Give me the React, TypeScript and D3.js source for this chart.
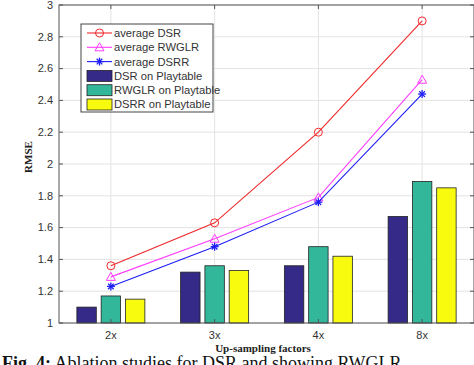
import * as d3 from "d3";

const categories = ["2x", "3x", "4x", "8x"];
const avgDSR = [1.36, 1.63, 2.2, 2.9];
const avgRWGLR = [1.29, 1.53, 1.79, 2.53];
const avgDSRR = [1.23, 1.48, 1.76, 2.44];
const barDSR = [1.1, 1.32, 1.36, 1.67];
const barRWGLR = [1.17, 1.36, 1.48, 1.89];
const barDSRR = [1.15, 1.33, 1.42, 1.85];
const yTicks = [1, 1.2, 1.4, 1.6, 1.8, 2, 2.2, 2.4, 2.6, 2.8, 3];

const W = 474;
const H = 365;
const m = { left: 59, right: 474, top: 5, bottom: 323 };

const bars = [
  { name: "DSR on Playtable", values: barDSR, color: "#352a87" },
  { name: "RWGLR on Playtable", values: barRWGLR, color: "#33b79b" },
  { name: "DSRR on Playtable", values: barDSRR, color: "#f9fb0e" },
];
const lines = [
  { name: "average DSR", values: avgDSR, color: "#f0282a", marker: "circle" },
  { name: "average RWGLR", values: avgRWGLR, color: "#ff3cff", marker: "triangle" },
  { name: "average DSRR", values: avgDSRR, color: "#1d1df5", marker: "star" },
];

const Marker = ({ type, x, y, color }: { type: string; x: number; y: number; color: string }) => {
  if (type === "circle") return <circle cx={x} cy={y} r={4} fill="none" stroke={color} strokeWidth={1} />;
  if (type === "triangle") {
    const d = `M${x},${y - 4.5}L${x + 4.5},${y + 3.5}L${x - 4.5},${y + 3.5}Z`;
    return <path d={d} fill="none" stroke={color} strokeWidth={1} />;
  }
  const r = 4;
  const a = r * 0.7;
  return (
    <g stroke={color} strokeWidth={1.3}>
      <line x1={x - r} y1={y} x2={x + r} y2={y} />
      <line x1={x} y1={y - r} x2={x} y2={y + r} />
      <line x1={x - a} y1={y - a} x2={x + a} y2={y + a} />
      <line x1={x - a} y1={y + a} x2={x + a} y2={y - a} />
    </g>
  );
};

export default function App() {
  const x = d3.scaleLinear().domain([0.5, 4.5]).range([m.left, m.right]);
  const y = d3.scaleLinear().domain([1, 3]).range([m.bottom, m.top]);
  const offset = d3.scaleBand().domain(bars.map((b) => b.name)).range([-34, 34]).paddingInner(0.2);
  const bw = offset.bandwidth();
  const line = d3
    .line<number>()
    .x((_, i) => x(i + 1))
    .y((d) => y(d));

  const font = "Liberation Sans, Arial, sans-serif";
  const serif = "Liberation Serif, Times New Roman, serif";
  const axisColor = "#555";

  const lx = 81, ly = 24, lw = 132, lh = 88;
  const rowH = 14.3;

  return (
    <svg width={W} height={H} style={{ position: "absolute", left: 0, top: 0, background: "#fff" }}>
      {/* grid */}
      <g stroke="#e3e3e3" strokeWidth={1}>
        {yTicks.map((t) => (
          <line key={"gy" + t} x1={m.left} x2={m.right} y1={y(t)} y2={y(t)} />
        ))}
        {categories.map((_, i) => (
          <line key={"gx" + i} x1={x(i + 1)} x2={x(i + 1)} y1={m.top} y2={m.bottom} />
        ))}
      </g>

      {/* bars */}
      {bars.map((b) =>
        b.values.map((v, i) => (
          <rect
            key={b.name + i}
            x={x(i + 1) + (offset(b.name) as number)}
            y={y(v)}
            width={bw}
            height={y(1) - y(v)}
            fill={b.color}
            stroke="#222"
            strokeWidth={0.8}
          />
        ))
      )}

      {/* lines */}
      {lines.map((l) => (
        <g key={l.name}>
          <path d={line(l.values) || ""} fill="none" stroke={l.color} strokeWidth={1.1} />
          {l.values.map((v, i) => (
            <Marker key={i} type={l.marker} x={x(i + 1)} y={y(v)} color={l.color} />
          ))}
        </g>
      ))}

      {/* axes box */}
      <rect x={m.left} y={m.top} width={m.right - m.left} height={m.bottom - m.top} fill="none" stroke={axisColor} strokeWidth={1} />
      {yTicks.map((t) => (
        <g key={"ty" + t}>
          <line x1={m.left} x2={m.left + 4} y1={y(t)} y2={y(t)} stroke={axisColor} />
          <line x1={m.right - 4} x2={m.right} y1={y(t)} y2={y(t)} stroke={axisColor} />
          <text x={m.left - 6} y={y(t)} dy="0.35em" textAnchor="end" fontFamily={font} fontSize={11} fill="#333">
            {d3.format("~g")(t)}
          </text>
        </g>
      ))}
      {categories.map((c, i) => (
        <g key={"tx" + c}>
          <line x1={x(i + 1)} x2={x(i + 1)} y1={m.bottom} y2={m.bottom - 4} stroke={axisColor} />
          <line x1={x(i + 1)} x2={x(i + 1)} y1={m.top} y2={m.top + 4} stroke={axisColor} />
          <text x={x(i + 1)} y={339} textAnchor="middle" fontFamily={font} fontSize={11} fill="#333">
            {c}
          </text>
        </g>
      ))}

      {/* axis titles */}
      <text x={263} y={352} textAnchor="middle" fontFamily={serif} fontWeight="bold" fontSize={11} fill="#222">
        Up-sampling factors
      </text>
      <text
        transform={`translate(32,157) rotate(-90)`}
        textAnchor="middle"
        fontFamily={serif}
        fontWeight="bold"
        fontSize={11}
        fill="#222"
      >
        RMSE
      </text>

      {/* legend */}
      <rect x={lx} y={ly} width={lw} height={lh} fill="#fff" stroke="#444" strokeWidth={1} />
      {lines.map((l, i) => {
        const cy = ly + 9 + i * rowH;
        return (
          <g key={"lg" + l.name}>
            <line x1={lx + 6} x2={lx + 31} y1={cy} y2={cy} stroke={l.color} strokeWidth={1.1} />
            <Marker type={l.marker} x={lx + 18.5} y={cy} color={l.color} />
            <text x={lx + 33} y={cy} dy="0.35em" fontFamily={font} fontSize={11.2} fill="#333">
              {l.name}
            </text>
          </g>
        );
      })}
      {bars.map((b, i) => {
        const cy = ly + 9 + (i + 3) * rowH;
        return (
          <g key={"lb" + b.name}>
            <rect x={lx + 6} y={cy - 5.5} width={25} height={11} fill={b.color} stroke="#222" strokeWidth={0.8} />
            <text x={lx + 33} y={cy} dy="0.35em" fontFamily={font} fontSize={11.2} fill="#333">
              {b.name}
            </text>
          </g>
        );
      })}

      {/* caption (cut off by the frame, as in the source) */}
      <text x={2} y={369} fontFamily={serif} fontSize={18} fill="#111">
        <tspan fontWeight="bold">Fig. 4:</tspan> Ablation studies for DSR and showing RWGLR
      </text>
    </svg>
  );
}
